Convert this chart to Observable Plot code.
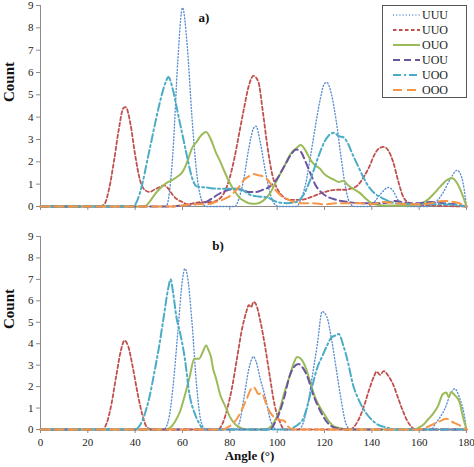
<!DOCTYPE html>
<html>
<head>
<meta charset="utf-8">
<script src="https://cdn.jsdelivr.net/npm/d3@7"></script>
<script src="https://cdn.jsdelivr.net/npm/@observablehq/plot@0.6"></script>
<style>
  body { margin: 0; background: #fff; }
  #chart { position: relative; width: 474px; height: 467px; font-family: "Liberation Serif", "Times New Roman", serif; }
  #chart svg { display: block; }
  #legend { position: absolute; left: 382px; top: 5px; }
</style>
</head>
<body>
<div id="chart"></div>
<script>
// Angle distributions (count vs. angle in degrees), as [angle, count] pairs.
const seriesNames = ["UUU", "UUO", "OUO", "UOU", "UOO", "OOO"];
const angleTicks = [0, 20, 40, 60, 80, 100, 120, 140, 160, 180];
const countTicks = [0, 1, 2, 3, 4, 5, 6, 7, 8, 9];

// Panel a)
const aUUU = [[0,0],[53,0],[54,0.3],[56,2.5],[58,6.5],[60,8.9],[62,7.2],[64,4],[66,1.5],[68,0.3],[70,0],[82,0],[84,0.4],[86,1.3],[88,2.6],[90,3.5],[91,3.6],[93,2.8],[95,1.6],[97,0.6],[99,0.1],[101,0],[108,0],[110,0.3],[112,1],[114,2.2],[116,3.5],[118,4.7],[120,5.5],[121,5.55],[123,5],[125,3.8],[127,2.2],[129,0.8],[131,0.1],[133,0],[138,0],[141,0.2],[144,0.6],[147,0.85],[149,0.7],[151,0.3],[153,0.05],[155,0],[164,0],[167,0.2],[170,0.6],[173,1.2],[176,1.62],[178,1.3],[180,0]];
const aUUO = [[0,0],[25,0],[27,0.1],[29,0.8],[31,2],[33,3.4],[35,4.4],[36,4.45],[38,3.7],[40,2.3],[42,1.2],[44,0.75],[46,0.65],[48,0.75],[50,0.85],[52,0.95],[54,0.8],[56,0.5],[58,0.3],[60,0.2],[62,0.1],[65,0.15],[68,0.2],[72,0.2],[75,0.3],[78,0.7],[80,1.3],[82,2.2],[84,3.3],[86,4.4],[88,5.4],[90,5.85],[92,5.6],[94,4.2],[96,2.6],[98,1.4],[100,0.8],[102,0.5],[105,0.3],[110,0.3],[115,0.45],[120,0.65],[125,0.75],[128,0.75],[131,0.8],[134,0.95],[137,1.4],[139,1.8],[141,2.3],[143,2.6],[145,2.67],[147,2.5],[149,2],[151,1.2],[153,0.5],[155,0.2],[158,0.1],[165,0.05],[180,0]];
const aOUO = [[0,0],[44,0],[46,0.2],[48,0.5],[50,0.75],[52,0.95],[54,1.1],[56,1.2],[58,1.35],[60,1.55],[62,2],[64,2.6],[66,2.9],[68,3.2],[70,3.34],[72,3],[74,2.45],[76,2],[78,1.5],[80,1.05],[82,0.7],[84,0.4],[86,0.25],[88,0.15],[91,0.12],[94,0.25],[97,0.6],[100,1.2],[103,1.8],[106,2.4],[108,2.6],[110,2.75],[112,2.5],[114,2.1],[116,1.85],[118,1.7],[120,1.45],[122,1.3],[124,1.2],[126,1.1],[128,1.15],[130,0.95],[132,0.8],[135,0.6],[138,0.3],[141,0.1],[145,0.05],[155,0.05],[160,0.1],[163,0.25],[166,0.55],[169,0.9],[172,1.2],[174,1.26],[176,1.05],[178,0.6],[180,0]];
const aUOU = [[0,0],[55,0],[60,0.05],[65,0.1],[70,0.2],[73,0.4],[76,0.6],[79,0.72],[82,0.8],[85,0.75],[88,0.65],[91,0.65],[94,0.75],[97,0.9],[100,1.25],[103,1.8],[106,2.35],[108,2.55],[110,2.45],[112,2],[114,1.5],[116,1],[118,0.7],[121,0.45],[125,0.3],[130,0.2],[135,0.15],[140,0.15],[145,0.15],[150,0.25],[155,0.15],[160,0.15],[165,0.2],[170,0.15],[175,0.1],[180,0]];
const aUOO = [[0,0],[39,0],[41,0.3],[43,1],[45,2],[47,3],[49,4],[51,4.9],[53,5.6],[54,5.8],[56,5.2],[58,4.2],[60,3.2],[62,2.2],[64,1.3],[66,0.9],[70,0.85],[75,0.8],[80,0.8],[85,0.75],[88,0.55],[92,0.45],[96,0.4],[100,0.2],[104,0.15],[108,0.2],[111,0.5],[114,1.2],[116,1.8],[118,2.4],[120,2.9],[122,3.2],[124,3.3],[126,3.15],[128,3.1],[130,2.8],[132,2.3],[134,1.85],[136,1.4],[138,1],[141,0.6],[144,0.4],[147,0.25],[150,0.15],[160,0.1],[170,0.1],[180,0]];
const aOOO = [[0,0],[55,0],[60,0.05],[65,0.1],[70,0.1],[74,0.2],[78,0.35],[81,0.55],[84,0.9],[86,1.2],[88,1.35],[90,1.45],[92,1.4],[94,1.35],[96,1.2],[98,0.9],[100,0.65],[102,0.45],[104,0.35],[107,0.2],[110,0.15],[115,0.15],[120,0.1],[125,0.15],[130,0.15],[135,0.15],[140,0.1],[145,0.2],[150,0.15],[155,0.1],[160,0.1],[165,0.15],[170,0.25],[175,0.2],[178,0.1],[180,0]];

// Panel b)
const bUUU = [[0,0],[52,0],[54,0.4],[56,2],[58,4.5],[60,7],[61,7.5],[62,7.2],[64,5],[66,2],[68,0.3],[70,0],[82,0],[84,0.3],[86,1.5],[88,2.8],[90,3.4],[91,3.2],[93,2.3],[95,1.5],[97,0.5],[99,0.05],[101,0],[109,0],[111,0.3],[113,1.2],[115,2.6],[117,4],[119,5.5],[121,5.25],[123,4.2],[125,2.8],[127,1.4],[129,0.3],[131,0],[165,0],[167,0.3],[169,0.6],[171,1],[173,1.6],[175,1.9],[177,1.5],[179,0.7],[180,0]];
const bUUO = [[0,0],[26,0],[28,0.3],[30,1.2],[32,2.5],[34,3.7],[35.5,4.15],[37,3.9],[39,2.9],[41,1.7],[43,0.7],[45,0.1],[47,0],[75,0],[77,0.3],[79,1],[81,2],[83,3.3],[85,4.6],[87,5.5],[88,5.8],[89,5.7],[90,5.95],[91,5.85],[93,5],[95,3.8],[97,2.4],[99,1.1],[101,0.4],[103,0],[131,0],[133,0.2],[135,0.6],[137,1.2],[139,1.9],[141,2.5],[142,2.7],[143.5,2.55],[145,2.72],[147,2.5],[149,2.1],[151,1.5],[153,0.9],[155,0.4],[157,0.1],[159,0],[180,0]];
const bOUO = [[0,0],[53,0],[55,0.1],[57,0.4],[59,0.85],[61,1.6],[63,2.45],[65,3.3],[67,3.3],[68.5,3.6],[70,3.92],[71,3.7],[72,3.4],[73,2.8],[74,2.45],[76,1.6],[78,1.1],[80,0.6],[82,0.27],[85,0.05],[87,0],[95,0],[97,0.1],[99,0.4],[101,0.9],[103,1.7],[105,2.4],[107,3.1],[108.5,3.38],[110,3.3],[112,2.9],[114,2.2],[116,1.5],[118,1.05],[120,0.7],[122,0.35],[124,0.15],[127,0.05],[130,0],[158,0],[160,0.1],[162,0.25],[164,0.5],[166,0.75],[168,1.1],[170,1.65],[171.5,1.72],[172.5,1.5],[173.5,1.75],[175,1.6],[177,1.3],[178.5,0.6],[180,0]];
const bUOU = [[0,0],[97,0],[99,0.3],[101,0.8],[103,1.5],[105,2.4],[107,2.9],[109,3.05],[111,2.85],[113,2.4],[115,1.7],[117,1.15],[119,0.7],[121,0.35],[123,0.15],[126,0.05],[130,0],[180,0]];
const bUOO = [[0,0],[40,0],[42,0.2],[44,0.7],[46,1.5],[48,2.6],[50,3.8],[52,5.2],[54,6.6],[55,7],[56,6.4],[57.5,5.2],[59,4.5],[61,3.3],[63,1.6],[65,0.8],[67,0.3],[69,0],[105,0],[107,0.1],[109,0.25],[111,0.5],[113,1.2],[115,2.1],[117,2.9],[119,3.4],[121,3.9],[123,4.3],[125,4.4],[126,4.45],[128,3.9],[130,3.1],[132,2.1],[134,1.5],[136,1.05],[138,0.7],[140,0.45],[143,0.2],[146,0.1],[150,0],[180,0]];
const bOOO = [[0,0],[77,0],[79,0.1],[81,0.25],[83,0.5],[85,0.9],[87,1.4],[89,1.9],[90,1.98],[91,1.85],[92,1.65],[93.5,1.7],[95,1.3],[97,0.8],[99,0.55],[101,0.45],[103,0.4],[104.5,0.15],[106,0.03],[108,0],[160,0],[163,0.1],[166,0.25],[169,0.4],[171.5,0.5],[174,0.35],[177,0.2],[179,0.05],[180,0]];

// Line styles per series
const styles = {
  UUU: {stroke: "#5b8fd2", strokeWidth: 1.4, strokeDasharray: "1,2.2"},
  UUO: {stroke: "#c0504d", strokeWidth: 1.8, strokeDasharray: "3.5,2.5"},
  OUO: {stroke: "#9bbb59", strokeWidth: 2},
  UOU: {stroke: "#6a55a0", strokeWidth: 2,   strokeDasharray: "7,4"},
  UOO: {stroke: "#4bacc6", strokeWidth: 2,   strokeDasharray: "8,3,2,3"},
  OOO: {stroke: "#f79646", strokeWidth: 2,   strokeDasharray: "9,5"}
};

const fontFamily = '"Liberation Serif", "Times New Roman", serif';
const axisColor = "#8c8c8c";

function lines(sets) {
  return seriesNames.map((name, i) => Plot.line(sets[i], {
    x: d => d[0], y: d => d[1], curve: "monotone-x", ...styles[name]
  }));
}

function panel({sets, tag, tagAt, height, marginTop, marginBottom, showAngleLabels}) {
  return Plot.plot({
    width: 474,
    height,
    marginTop,
    marginBottom,
    marginLeft: 40,
    marginRight: 8,
    style: {fontFamily, fontSize: "11px", color: "#222", background: "#fff"},
    x: {domain: [0, 180]},
    y: {domain: [0, 9]},
    marks: [
      Plot.ruleX([0], {stroke: axisColor}),
      Plot.ruleY([0], {stroke: axisColor}),
      Plot.axisY(countTicks, {tickSize: 4, tickPadding: 3, stroke: axisColor, fill: "#222", label: null}),
      Plot.axisX(angleTicks, {tickSize: 4, tickPadding: 5, stroke: axisColor, fill: "#222", label: null,
        tickFormat: showAngleLabels ? d => d : () => ""}),
      Plot.text(["Count"], {frameAnchor: "left", rotate: -90, dx: -31, dy: -4,
        fontWeight: "bold", fontSize: 15, fill: "#111"}),
      ...(showAngleLabels ? [Plot.text(["Angle (°)"], {frameAnchor: "bottom", dy: 30, dx: -4,
        fontWeight: "bold", fontSize: 13, fill: "#111"})] : []),
      Plot.text([tag], {x: tagAt[0], y: tagAt[1], fontWeight: "bold", fontSize: 13, fill: "#111"}),
      ...lines(sets)
    ]
  });
}

const chart = document.getElementById("chart");

chart.append(panel({
  sets: [aUUU, aUUO, aOUO, aUOU, aUOO, aOOO],
  tag: "a)", tagAt: [69, 8.45],
  height: 214, marginTop: 5, marginBottom: 8, showAngleLabels: false
}));

chart.append(panel({
  sets: [bUUU, bUUO, bOUO, bUOU, bUOO, bOOO],
  tag: "b)", tagAt: [75, 8.55],
  height: 253, marginTop: 22, marginBottom: 38, showAngleLabels: true
}));

// Series key in the upper panel
const legend = d3.select(chart).append("svg")
  .attr("id", "legend")
  .attr("width", 85)
  .attr("height", 93)
  .style("font-family", fontFamily);
legend.append("rect")
  .attr("x", 0.5).attr("y", 0.5).attr("width", 84).attr("height", 92)
  .attr("fill", "#fff").attr("stroke", "#555");
seriesNames.forEach((name, i) => {
  const y = 10 + i * 15;
  const s = styles[name];
  legend.append("line")
    .attr("x1", 11).attr("x2", 38).attr("y1", y).attr("y2", y)
    .attr("stroke", s.stroke).attr("stroke-width", s.strokeWidth)
    .attr("stroke-dasharray", s.strokeDasharray || null);
  legend.append("text")
    .attr("x", 40).attr("y", y).attr("dy", "0.35em")
    .attr("font-size", 12).attr("fill", "#222")
    .text(name);
});
</script>
</body>
</html>
